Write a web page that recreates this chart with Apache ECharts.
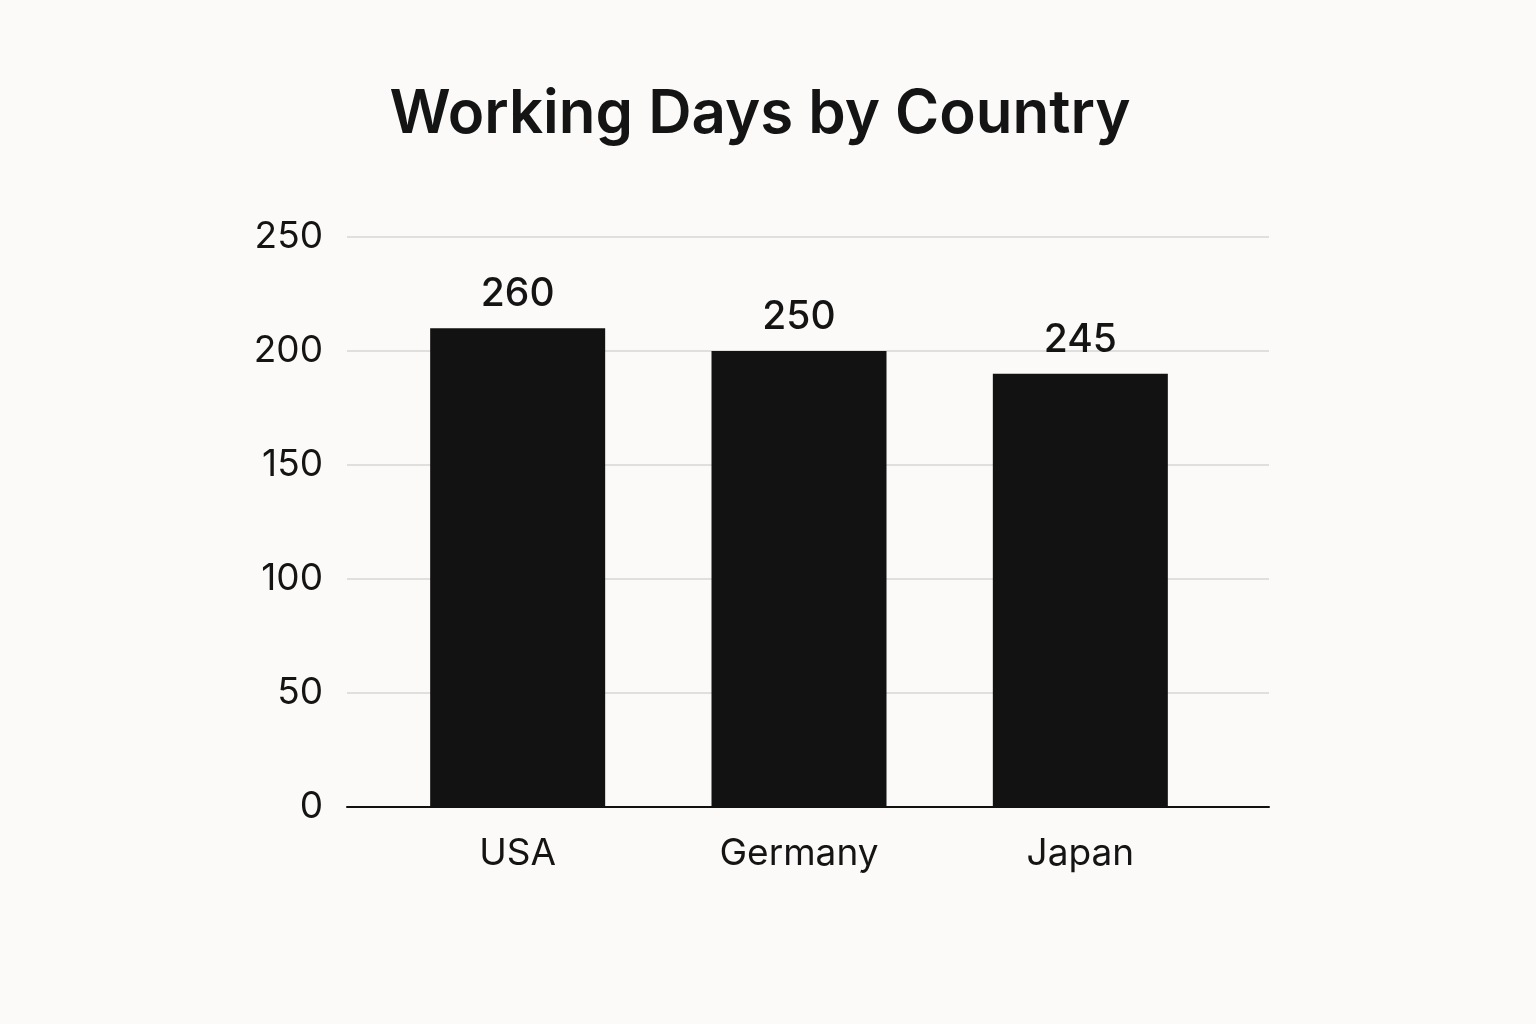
<!DOCTYPE html>
<html>
<head>
<meta charset="utf-8">
<script src="https://cdn.jsdelivr.net/npm/echarts@6/dist/echarts.min.js"></script>
<style>
  html, body { margin: 0; padding: 0; background: #fbfaf8; }
  #chart { width: 1536px; height: 1024px; }
</style>
</head>
<body>
<div id="chart"></div>
<script>
// categories and values
var countries = ['USA', 'Germany', 'Japan'];
var barValues = [210, 200, 190];
// labels printed above the bars (differ from bar heights in the original)
var barLabels = ['260', '250', '245'];
var yTicks = [0, 50, 100, 150, 200, 250];

var chart = echarts.init(document.getElementById('chart'));
var option = {
  backgroundColor: '#fbfaf8',
  textStyle: { fontFamily: 'Inter, "Noto Sans", sans-serif' },
  title: {
    text: 'Working Days by Country',
    left: 755,
    textAlign: 'center',
    top: 80,
    textStyle: { fontSize: 60, fontWeight: 600, color: '#141414' }
  },
  // grid 0: frame (gridlines, y labels, baseline); grid 1: the bars
  grid: [
    { left: 347, right: 267, top: 237, bottom: 217 },
    { left: 377, right: 315, top: 237, bottom: 217 }
  ],
  xAxis: [
    {
      gridIndex: 0, type: 'category', data: [''],
      axisTick: { show: false }, axisLabel: { show: false },
      axisLine: { lineStyle: { color: '#111', width: 2 } }
    },
    {
      gridIndex: 1, type: 'category', data: countries,
      axisTick: { show: false }, axisLine: { show: false },
      axisLabel: { fontSize: 37, color: '#141414', margin: 28 }
    }
  ],
  yAxis: [
    {
      gridIndex: 0, type: 'value',
      min: yTicks[0], max: yTicks[yTicks.length - 1], interval: 50,
      axisLine: { show: false }, axisTick: { show: false },
      splitLine: { lineStyle: { color: '#d6d6d6', width: 1.5 } },
      axisLabel: { fontSize: 37, color: '#141414', margin: 24 }
    },
    {
      gridIndex: 1, type: 'value',
      min: yTicks[0], max: yTicks[yTicks.length - 1], interval: 50,
      show: false, splitLine: { show: false }
    }
  ],
  series: [{
    type: 'bar',
    xAxisIndex: 1,
    yAxisIndex: 1,
    data: barValues,
    barWidth: 175,
    itemStyle: { color: '#121212' },
    label: {
      show: true,
      position: 'top',
      distance: 14,
      fontSize: 39,
      fontWeight: 500,
      color: '#141414',
      formatter: function (p) { return barLabels[p.dataIndex]; }
    }
  }]
};
chart.setOption(option);
</script>
</body>
</html>
